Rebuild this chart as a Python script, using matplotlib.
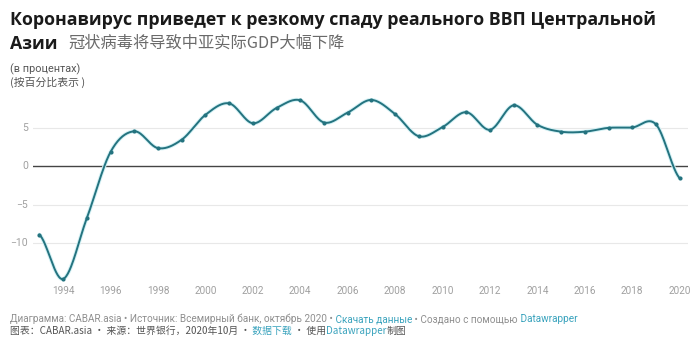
import numpy as np
import matplotlib
matplotlib.use("Agg")
from matplotlib import pyplot as plt

years = list(range(1993, 2021))
gdp = [-8.9, -14.7, -6.75, 1.9, 4.6, 2.4, 3.5, 6.75, 8.25, 5.65, 7.65, 8.65,
       5.75, 7.05, 8.7, 6.85, 3.95, 5.15, 7.1, 4.8, 8.0, 5.45, 4.55, 4.55,
       5.05, 5.1, 5.5, -1.55]
y_ticks = [-10, -5, 0, 5]
x_ticks = list(range(1994, 2021, 2))

title = "Коронавирус приведет к резкому спаду реального ВВП Центральной"
title2 = "Азии"
title_cn = "冠状病毒将导致中亚实际GDP大幅下降"
unit_ru = "(в процентах)"
unit_cn = "(按百分比表示 )"

LINE = "#24737f"
HALO = "#d3f1f5"
LINK = "#3aa3bd"
CJK = ["Noto Sans CJK SC", "DejaVu Sans"]


def catmull(x, y, n=30):
    # smooth line like the datawrapper curve: hermite with catmull-rom tangents
    x = np.asarray(x, float)
    y = np.asarray(y, float)
    m = np.zeros_like(y)
    m[1:-1] = (y[2:] - y[:-2]) / 2
    m[0] = (y[1] - y[0]) / 2
    m[-1] = (y[-1] - y[-2]) / 2
    xs, ys = [], []
    for i in range(len(x) - 1):
        t = np.linspace(0, 1, n, endpoint=False)
        h00 = 2 * t**3 - 3 * t**2 + 1
        h10 = t**3 - 2 * t**2 + t
        h01 = -2 * t**3 + 3 * t**2
        h11 = t**3 - t**2
        xs.append(x[i] + t * (x[i + 1] - x[i]))
        ys.append(h00 * y[i] + h10 * m[i] + h01 * y[i + 1] + h11 * m[i + 1])
    xs.append([x[-1]])
    ys.append([y[-1]])
    return np.concatenate(xs), np.concatenate(ys)


W, H = 699, 352
fig = plt.figure(figsize=(W / 100, H / 100), dpi=100)
fig.patch.set_facecolor("white")

ax = fig.add_axes([33 / W, 1 - 282 / H, (688 - 33) / W, 192 / H])
ax.set_xlim(1992.73, 2020.35)
ax.set_ylim(-15.1, 10.0)
for s in ax.spines.values():
    s.set_visible(False)
ax.set_xticks(x_ticks)
ax.set_xticklabels([str(t) for t in x_ticks], fontsize=7.2, color="#a0a0a0", family="Roboto")
ax.tick_params(axis="x", length=0, pad=3)
ax.set_yticks([])

for v in y_ticks:
    if v == 0:
        ax.axhline(v, color="#444444", lw=1.0, zorder=1)
    else:
        ax.axhline(v, color="#e8e8e8", lw=0.8, zorder=1)
    lab = str(v).replace("-", "\u2212")
    ax.text(-0.008, v, lab, transform=ax.get_yaxis_transform(), ha="right", va="center",
            fontsize=7.5, color="#a0a0a0", family="Roboto")

sx, sy = catmull(years, gdp)
ax.plot(sx, sy, color=HALO, lw=2.8, solid_capstyle="round", zorder=2)
ax.plot(sx, sy, color=LINE, lw=1.4, solid_capstyle="round", zorder=3)
ax.scatter(years, gdp, s=9, color=LINE, zorder=4, linewidths=0)

fig.text(10 / W, 1 - 20 / H, title, fontsize=12.75, fontweight="bold", family="Open Sans",
         color="#1a1a1a", va="center")
fig.text(10 / W, 1 - 44 / H, title2, fontsize=12.75, fontweight="bold", family="Open Sans",
         color="#1a1a1a", va="center")
fig.text(68 / W, 1 - 43 / H, title_cn, fontsize=11.7, family=CJK, color="#6a6a6a", va="center")
fig.text(10 / W, 1 - 69 / H, unit_ru, fontsize=7.8, family="Roboto", color="#555555", va="center")
fig.text(10 / W, 1 - 82 / H, unit_cn, fontsize=7.8, family=CJK, color="#555555", va="center")

renderer = fig.canvas.get_renderer()


def text_row(pieces, x, y, size, family):
    # pieces of one line in different colours, on a shared baseline
    for s, c in pieces:
        t = fig.text(x / W, 1 - y / H, s, fontsize=size, family=family, color=c, va="baseline")
        bb = t.get_window_extent(renderer=renderer)
        x = bb.x1


GREY = "#8f8f8f"
footer_ru = [("Диаграмма: CABAR.asia • Источник: Всемирный банк, октябрь 2020 •", GREY),
             (" Скачать данные", LINK),
             (" • Создано с помощью", GREY),
             (" Datawrapper", LINK)]
footer_cn = [("图表：CABAR.asia · 来源：世界银行，2020年10月 ·", "#555555"),
             (" 数据下载", LINK),
             (" · 使用", "#555555"),
             ("Datawrapper", LINK),
             ("制图", "#555555")]
text_row(footer_ru, 10, 322, 7.2, "Roboto")
text_row(footer_cn, 10, 334, 7.1, CJK)

fig.savefig("out.png", dpi=100, facecolor="white")
